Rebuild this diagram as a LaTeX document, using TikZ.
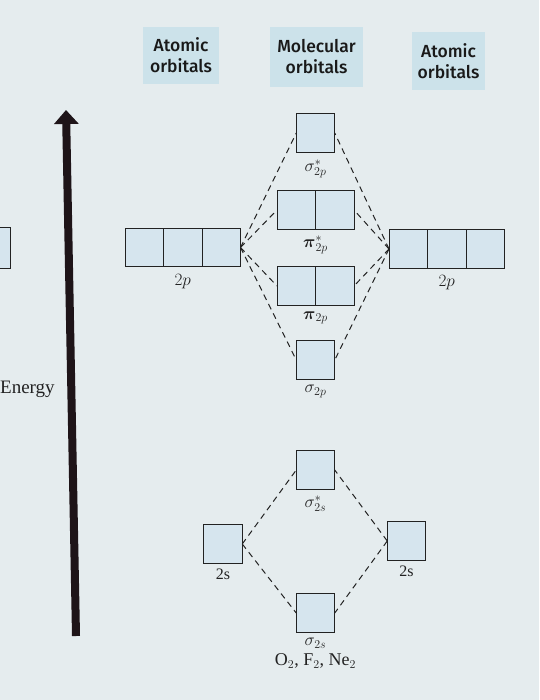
\documentclass[tikz,border=0pt]{standalone}
\usepackage{amsmath}
\usepackage{fontspec}
\setmainfont{Liberation Serif}
\setsansfont{Fira Sans}[UprightFont=* Medium]
\usetikzlibrary{positioning,arrows.meta}

\definecolor{paper}{HTML}{E5ECEE}
\definecolor{headfill}{HTML}{CCE2EA}
\definecolor{orbfill}{HTML}{D6E5EE}
\definecolor{ink}{HTML}{222222}
\definecolor{axis}{HTML}{1E1418}

\tikzset{
  orb/.style={draw=ink, fill=orbfill, line width=1pt, minimum width=38.5pt,
    minimum height=38.5pt, inner sep=0pt, outer sep=0pt},
  lbl/.style={font=\fontsize{18}{20}\selectfont, text=ink, inner sep=1pt},
  head/.style={fill=headfill, font=\sffamily\fontsize{17.5}{21}\selectfont,
    align=center, text=black!90, inner sep=0pt},
  link/.style={draw=ink, line width=1pt, dash pattern=on 6pt off 4.5pt},
}

\begin{document}
\begin{tikzpicture}[x=1pt,y=-1pt]
\fill[paper] (0,0) rectangle (539,700);
\useasboundingbox (0,0) rectangle (539,700);
\clip (0,0) rectangle (539,700);

\node[head, minimum width=76pt, minimum height=57pt] (hleft) at (181,55.5) {Atomic\\orbitals};
\node[head, minimum width=93pt, minimum height=60pt] (hmid) at (316.5,57) {Molecular\\orbitals};
\node[head, minimum width=73pt, minimum height=58pt] (hright) at (448.5,61) {Atomic\\orbitals};

\coordinate (elo) at (76,636);
\coordinate (ehi) at (66,110);
\draw[line width=8pt, draw=axis, -{Triangle[width=24pt,length=14pt]}] (elo) -- (ehi);
\node[anchor=west, font=\fontsize{19}{22}\selectfont, text=ink, inner sep=0pt] (energy) at (0,389) {Energy};

\node[orb, minimum width=40pt, minimum height=40pt] (edge) at (-10,248) {};

\node[orb] (lp1) at (144.25,247.5) {};
\node[orb, right=0pt of lp1] (lp2) {};
\node[orb, right=0pt of lp2] (lp3) {};
\node[lbl, below=6pt of lp2] (lpl) {$2p$};

\node[orb] (rp1) at (408.25,249) {};
\node[orb, right=0pt of rp1] (rp2) {};
\node[orb, right=0pt of rp2] (rp3) {};
\node[lbl, below=6pt of rp2] (rpl) {$2p$};

\node[orb] (ss2p) at (315.5,133) {};
\node[lbl, below=6pt of ss2p] (ss2pl) {$\sigma^*_{2p}$};

\node[orb] (pis1) at (296.25,210) {};
\node[orb, right=0pt of pis1] (pis2) {};
\node[lbl, below=5pt of pis1.south east] (pisl) {$\boldsymbol{\pi}^*_{2p}$};

\node[orb] (pi1) at (296.25,286) {};
\node[orb, right=0pt of pi1] (pi2) {};
\node[lbl, below=5pt of pi1.south east] (pil) {$\boldsymbol{\pi}_{2p}$};

\node[orb] (s2p) at (315.5,360) {};
\node[lbl, below=5pt of s2p] (s2pl) {$\sigma_{2p}$};

\node[orb] (ss2s) at (315.5,470) {};
\node[lbl, below=5pt of ss2s] (ss2sl) {$\sigma^*_{2s}$};

\node[orb] (l2s) at (223,544) {};
\node[lbl, font=\fontsize{16}{18}\selectfont, below=4pt of l2s] (l2sl) {2s};

\node[orb] (r2s) at (406.5,541) {};
\node[lbl, font=\fontsize{16}{18}\selectfont, below=4pt of r2s] (r2sl) {2s};

\node[orb] (s2s) at (315.5,613) {};
\node[lbl, below=5pt of s2s] (s2sl) {$\sigma_{2s}$};
\node[lbl] (mol) at (315.5,661) {O$_2$, F$_2$, Ne$_2$};

\draw[link] (lp3.east) -- (ss2p.west);
\draw[link] (lp3.east) -- (pis1.west);
\draw[link] (lp3.east) -- (pi1.west);
\draw[link] (lp3.east) -- (s2p.west);
\draw[link] (rp1.west) -- (ss2p.east);
\draw[link] (rp1.west) -- (pis2.east);
\draw[link] (rp1.west) -- (pi2.east);
\draw[link] (rp1.west) -- (s2p.east);

\draw[link] (l2s.east) -- (ss2s.west);
\draw[link] (l2s.east) -- (s2s.west);
\draw[link] (r2s.west) -- (ss2s.east);
\draw[link] (r2s.west) -- (s2s.east);
\end{tikzpicture}
\end{document}
